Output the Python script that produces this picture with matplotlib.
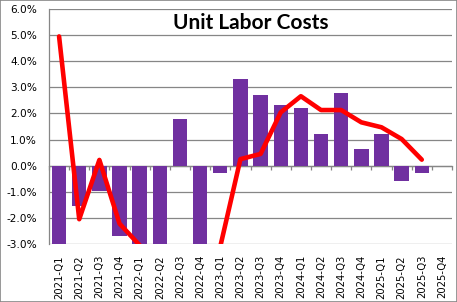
import numpy as np
import matplotlib
matplotlib.use("Agg")
import matplotlib.pyplot as plt
from matplotlib.patches import Rectangle

# quarters on the category axis
quarters = ["2021-Q1", "2021-Q2", "2021-Q3", "2021-Q4",
            "2022-Q1", "2022-Q2", "2022-Q3", "2022-Q4",
            "2023-Q1", "2023-Q2", "2023-Q3", "2023-Q4",
            "2024-Q1", "2024-Q2", "2024-Q3", "2024-Q4",
            "2025-Q1", "2025-Q2", "2025-Q3", "2025-Q4"]

# quarterly change (%), bars -- values below -3% are cut off by the axis
quarterly = [-5.0, -1.56, -0.96, -2.68, -4.0, -3.8, 1.80, -3.6, -0.29, 3.33,
             2.71, 2.33, 2.21, 1.23, 2.80, 0.65, 1.23, -0.60, -0.27, np.nan]

# trend line (%)
trend = [4.95, -2.05, 0.22, -2.22, -3.05, -4.0, -4.4, -4.2, -3.1, 0.25,
         0.45, 2.04, 2.66, 2.13, 2.13, 1.66, 1.47, 1.02, 0.23, np.nan]

yticks = [-3, -2, -1, 0, 1, 2, 3, 4, 5, 6]

grey = "#868686"
purple = "#7030A0"

fig = plt.figure(figsize=(4.57, 3.02), dpi=100)
ax = fig.add_axes([49 / 457, 1 - 244 / 302, 403 / 457, 235 / 302])

x = np.arange(len(quarters))
ax.bar(x, quarterly, width=0.714, color=purple, zorder=2)
ax.plot(x, trend, color="#FF0000", lw=3.3, solid_capstyle="round",
        solid_joinstyle="round", zorder=3)

ax.set_xlim(-0.5, len(quarters) - 0.5)
ax.set_ylim(yticks[0], yticks[-1])
ax.set_yticks(yticks)
ax.set_yticklabels([f"{v:.1f}%" for v in yticks])
ax.yaxis.grid(True, color=grey, lw=0.9, zorder=0)
ax.set_axisbelow(True)

ax.set_xticks(x)
ax.set_xticklabels(quarters, rotation=90)
ax.tick_params(axis="x", length=0, pad=8, labelsize=7.2)
ax.tick_params(axis="y", length=0, pad=8.5, labelsize=7.6)

for s in ["top", "right", "bottom"]:
    ax.spines[s].set_visible(False)
ax.spines["left"].set_color(grey)
ax.spines["left"].set_linewidth(0.9)

# category axis line sits at 0% with tick marks between quarters
zero_pos = (0 - yticks[0]) / (yticks[-1] - yticks[0])
sec = ax.secondary_xaxis(zero_pos)
sec.set_xticks(np.arange(len(quarters) + 1) - 0.5)
sec.set_xticklabels([])
sec.tick_params(axis="x", length=3, width=0.9, color=grey, direction="out")
sec.spines["bottom"].set_color(grey)
sec.spines["bottom"].set_linewidth(0.9)

fig.text(251 / 457, 1 - 23 / 302, "Unit Labor Costs", ha="center", va="center",
         fontsize=15, fontweight="bold", family="Lato")

fig.patches.append(Rectangle((0, 0), 1, 1, transform=fig.transFigure,
                             fill=False, edgecolor=grey, lw=1.2))

fig.savefig("out.png", dpi=100)
